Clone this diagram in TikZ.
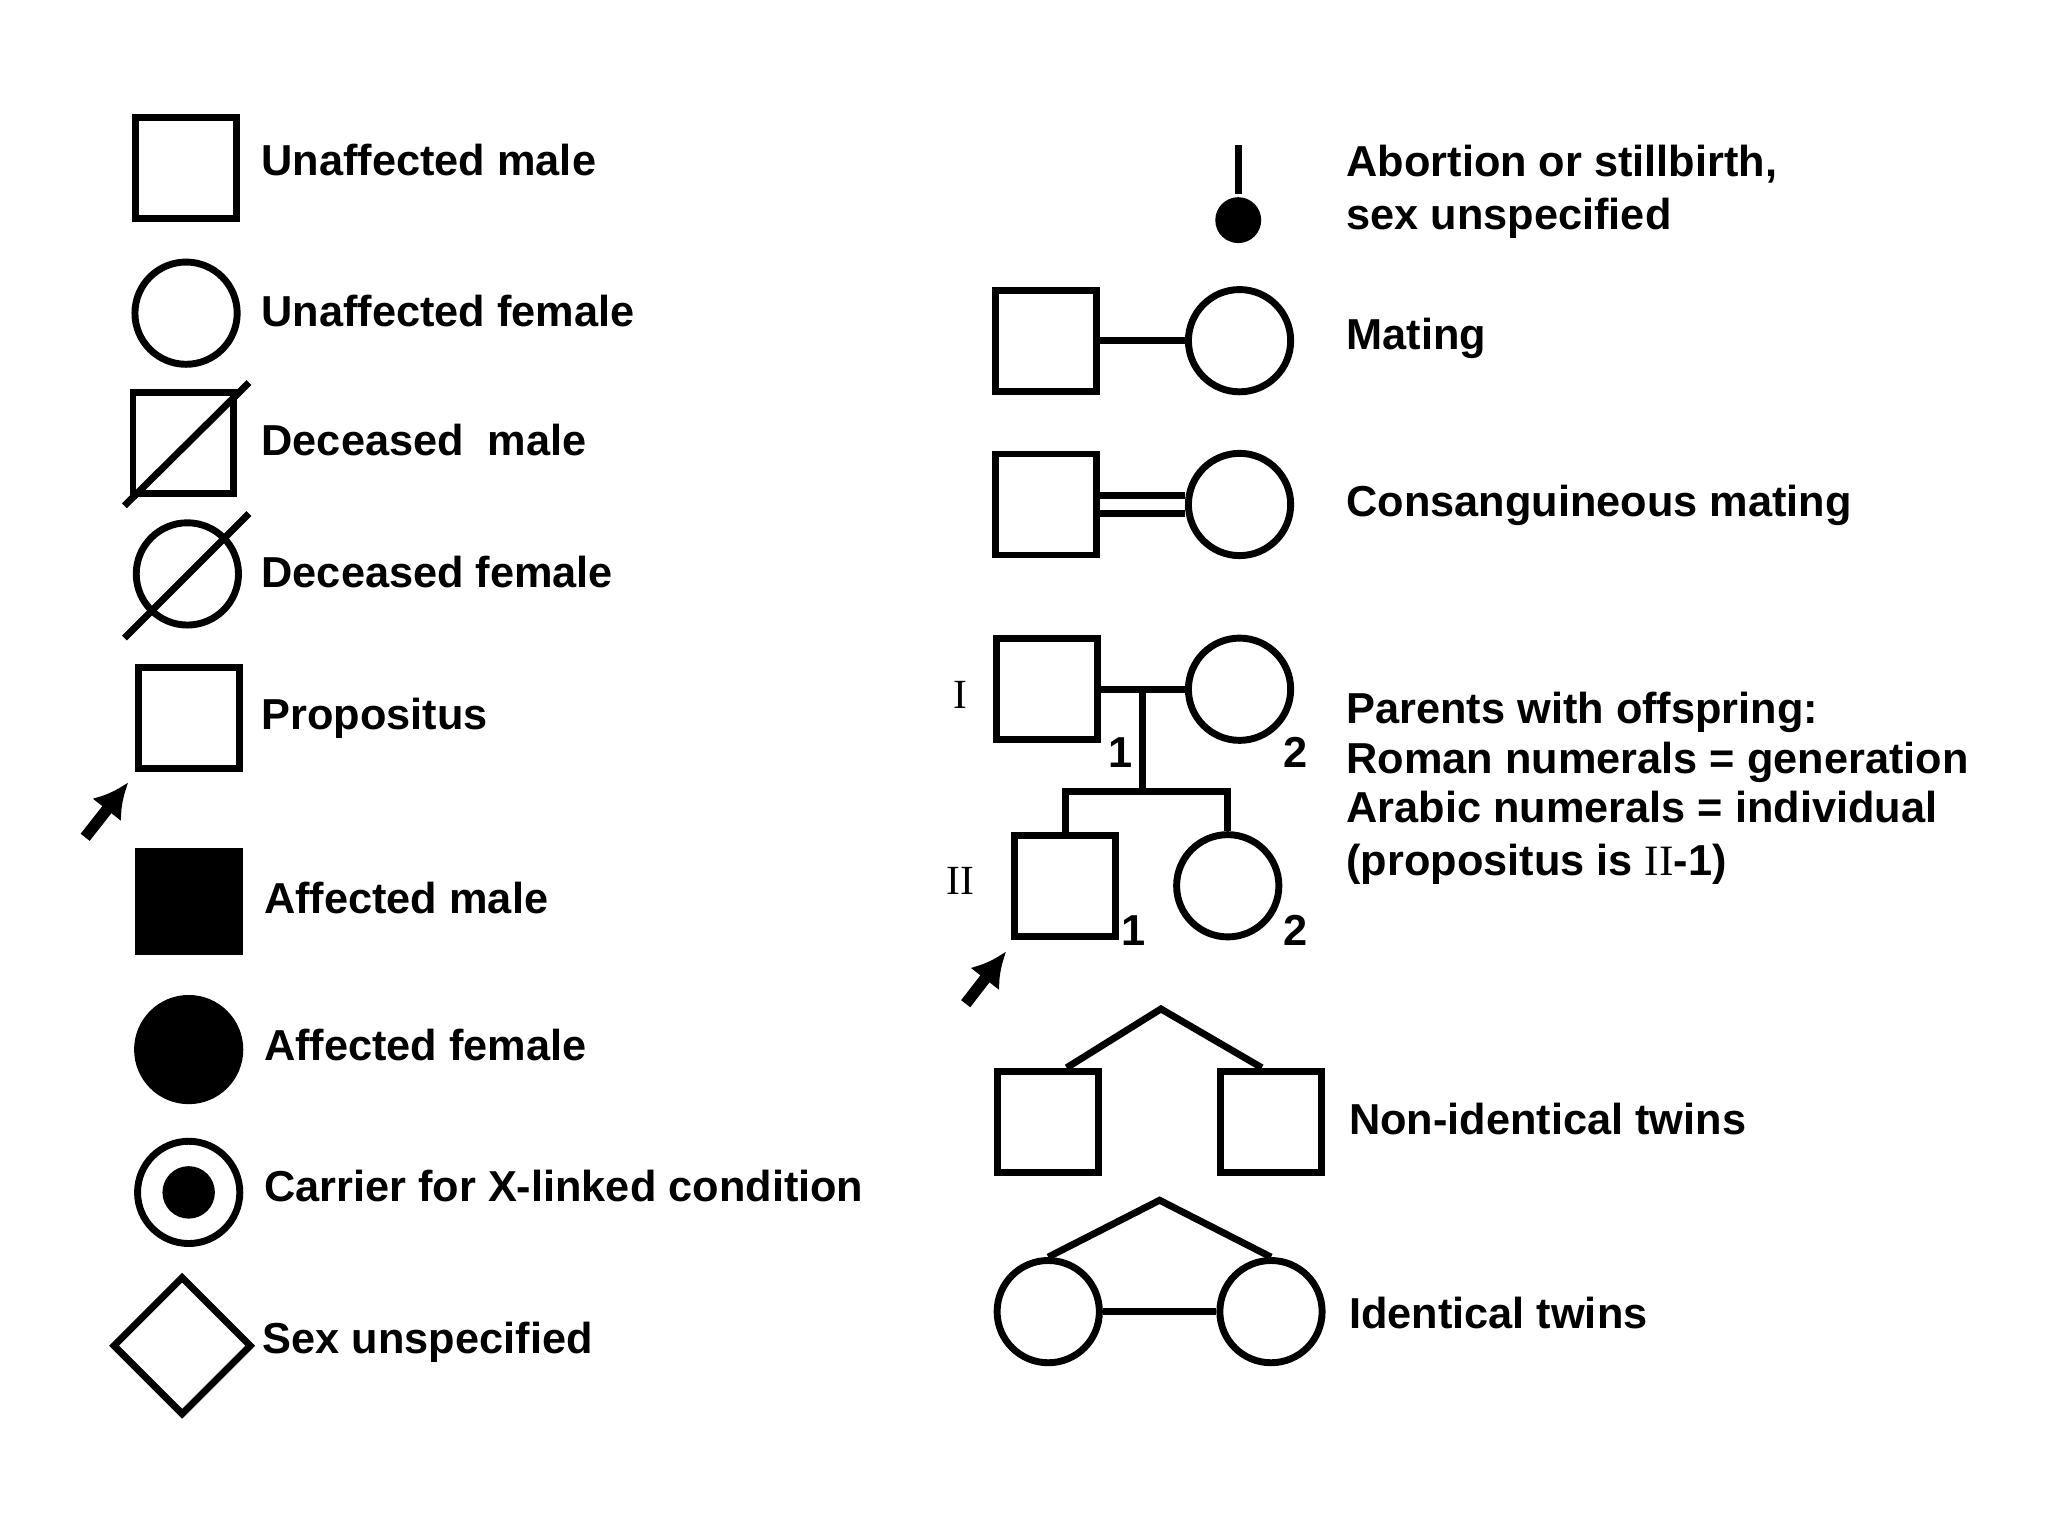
\documentclass[tikz,border=0pt]{standalone}
\usepackage{fontspec}
\setmainfont{Liberation Sans}
\newfontfamily\romfont{Liberation Serif}
\usetikzlibrary{arrows.meta,shapes.geometric,calc,positioning}

\begin{document}
\begin{tikzpicture}[
		x=0.01cm, y=-0.01cm,
		line width=1.5pt,
		male/.style={rectangle,draw,minimum size=0.77cm,inner sep=0pt},
		female/.style={circle,draw,minimum size=0.78cm,inner sep=0pt},
		unsp/.style={diamond,draw,minimum size=1.06cm,inner sep=0pt},
		txt/.style={anchor=base west,inner sep=0pt,font=\bfseries\fontsize{9.4}{11}\selectfont},
		num/.style={inner sep=0pt,font=\bfseries\fontsize{9.4}{11}\selectfont},
		gen/.style={inner sep=0pt,font=\romfont\fontsize{9}{11}\selectfont},
		proband/.style={-{Latex[length=7.5pt,width=8pt]},line width=2.5pt},
		>=latex]
	\useasboundingbox (0,0) rectangle (1563,1172);
	%% left column
	\node (um) at (142,128) [male] {};
	\node (tum) at (197,134) [txt] {Unaffected male};
	\node (uf) at (142,239) [female] {};
	\node (tuf) at (197,249) [txt] {Unaffected female};
	\node (dm) at (140,338) [male] {};
	\draw ($(dm)+(-45,48)$) -- ($(dm)+(50,-46)$);
	\node (tdm) at (197,348) [txt] {Deceased\ \ male};
	\node (df) at (143,438) [female] {};
	\draw ($(df)+(-48,49)$) -- ($(df)+(47,-46)$);
	\node (tdf) at (197,448) [txt] {Deceased female};
	\node (pr) at (144,548) [male] {};
	\coordinate (pra) at (65,639);
	\draw[proband] (pra) -- ([shift={(-5,8)}]pr.south west);
	\node (tpr) at (197,557) [txt] {Propositus};
	\node (am) at (144,688) [male,fill] {};
	\node (tam) at (199,697) [txt] {Affected male};
	\node (af) at (144,801) [female,fill] {};
	\node (taf) at (199,809) [txt] {Affected female};
	\node (cx) at (144,910) [female] {};
	\node (cxin) at (cx) [circle,fill,minimum size=0.4cm,inner sep=0pt] {};
	\node (tcx) at (199,917) [txt] {Carrier for X-linked condition};
	\node (su) at (139,1027) [unsp] {};
	\node (tsu) at (198,1033) [txt] {Sex unspecified};
	%% abortion
	\node (ab) at (945,168) [circle,fill,minimum size=0.35cm,inner sep=0pt] {};
	\coordinate (abtop) at (945,111);
	\draw (abtop) -- (ab);
	\node (tab1) at (1025,135) [txt] {Abortion or stillbirth,};
	\node (tab2) at (1025,175) [txt] {sex unspecified};
	%% mating
	\node (mm) at (798,260) [male] {};
	\node (mf) at (946,260) [female] {};
	\draw (mm) -- (mf);
	\node (tmt) at (1025,267) [txt] {Mating};
	\node (cm) at (798,385) [male] {};
	\node (cf) at (946,385) [female] {};
	\draw[double,double distance=2.4pt] (cm) -- (cf);
	\node (tcm) at (1025,394) [txt] {Consanguineous mating};
	%% parents with offspring
	\node (g1) at (733,530) [gen] {I};
	\node (pm) at (799,526) [male] {};
	\node (pf) at (946,526) [female] {};
	\draw (pm) -- (pf);
	\coordinate (pmid) at ($(pm.east)!0.5!(pf.west)$);
	\coordinate (sib) at ($(pmid)+(0,78)$);
	\draw (pmid) -- (sib);
	\node (c1) at (813,676) [male] {};
	\node (c2) at (937,676) [female] {};
	\draw (c1.north) |- (sib) -| (c2.north);
	\node (n11) at (855,574) [num] {1};
	\node (n12) at (989,574) [num] {2};
	\node (g2) at (733,672) [gen] {II};
	\node (n21) at (865,710) [num] {1};
	\node (n22) at (989,710) [num] {2};
	\coordinate (c1a) at (737,766);
	\draw[proband] (c1a) -- ([shift={(-4,9)}]c1.south west);
	\node (tpo1) at (1025,552) [txt] {Parents with offspring:};
	\node (tpo2) at (1025,590) [txt] {Roman numerals = generation};
	\node (tpo3) at (1025,628) [txt] {Arabic numerals = individual};
	\node (tpo4) at (1025,668) [txt] {(propositus is {\romfont\mdseries II}-1)};
	%% twins
	\node (nt1) at (800,856) [male] {};
	\node (nt2) at (970,856) [male] {};
	\coordinate (nta) at (886,770);
	\draw ([xshift=4]nt1.north) -- (nta) -- ([xshift=-2]nt2.north);
	\node (tnt) at (1027,866) [txt] {Non-identical twins};
	\node (it1) at (800,1001) [female] {};
	\node (it2) at (970,1001) [female] {};
	\coordinate (ita) at (885,916);
	\draw (it1.north) -- (ita) -- (it2.north);
	\draw (it1) -- (it2);
	\node (tit) at (1027,1014) [txt] {Identical twins};
\end{tikzpicture}
\end{document}
